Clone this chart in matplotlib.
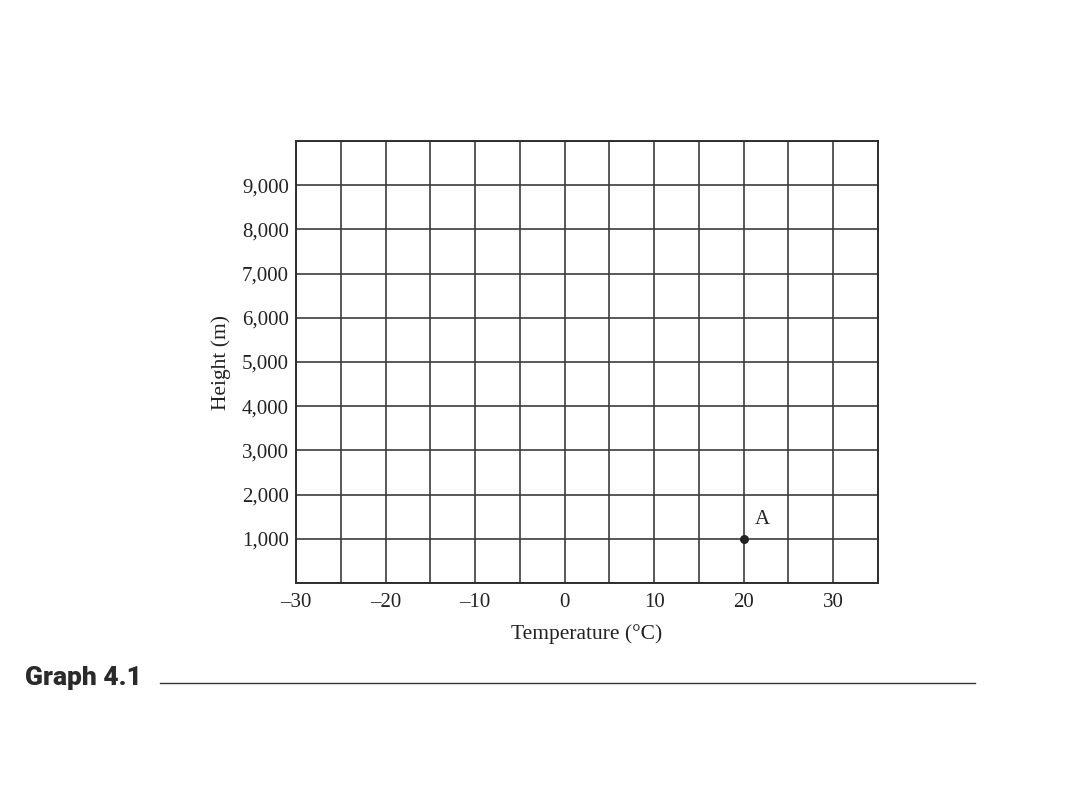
import matplotlib
matplotlib.use("Agg")
import matplotlib.pyplot as plt
import numpy as np

# Data
x_labels = [-30, -20, -10, 0, 10, 20, 30]
x_grid = [-30, -25, -20, -15, -10, -5, 0, 5, 10, 15, 20, 25, 30, 35]
y_labels = [1000, 2000, 3000, 4000, 5000, 6000, 7000, 8000, 9000]
y_grid = [0, 1000, 2000, 3000, 4000, 5000, 6000, 7000, 8000, 9000, 10000]
point_name = ["A"]
point_x = [20]
point_y = [1000]

serif = ["Liberation Serif", "DejaVu Serif"]

fig = plt.figure(figsize=(10.67, 8), dpi=100)
fig.patch.set_facecolor("white")
ax = fig.add_axes([296/1067, 1 - 583/800, (878 - 296)/1067, (583 - 141)/800])

ax.set_xlim(-30, 35)
ax.set_ylim(0, 10000)

for xv in x_grid:
    ax.axvline(xv, color="#3c3c3c", lw=1.2, zorder=1)
for yv in y_grid:
    ax.axhline(yv, color="#3c3c3c", lw=1.2, zorder=1)

for s in ax.spines.values():
    s.set_color("#2e2e2e")
    s.set_linewidth(1.4)

ax.set_xticks(x_labels)
ax.set_xticklabels([("\u2013" + str(abs(v))) if v < 0 else str(v) for v in x_labels],
                   fontfamily=serif, fontsize=15, color="#222222")
ax.set_yticks(y_labels)
ax.set_yticklabels([f"{v:,}" for v in y_labels], fontfamily=serif, fontsize=15, color="#222222")
ax.tick_params(axis="x", length=0, pad=7)
ax.tick_params(axis="y", length=0, pad=5)

ax.set_xlabel("Temperature (\u00b0C)", fontfamily=serif, fontsize=15.5, color="#222222", labelpad=9)
ax.set_ylabel("Height (m)", fontfamily=serif, fontsize=15.5, color="#222222", labelpad=8)

ax.scatter(point_x, point_y, s=30, color="#222222", zorder=3, clip_on=False)
for n, px, py in zip(point_name, point_x, point_y):
    ax.annotate(n, (px, py), xytext=(8, 7), textcoords="offset points",
                fontfamily=serif, fontsize=15, color="#222222", ha="left", va="bottom")

fig.text(25/1067, 1 - 678/800, "Graph 4.1", fontfamily="Roboto", fontweight="black",
         fontsize=19, color="#2a2a2a", va="center", ha="left")
fig.add_artist(plt.Line2D([160/1067, 975/1067], [1 - 683/800, 1 - 683/800],
                          color="#333333", lw=1.0))

fig.savefig("out.png", dpi=100, facecolor="white")
